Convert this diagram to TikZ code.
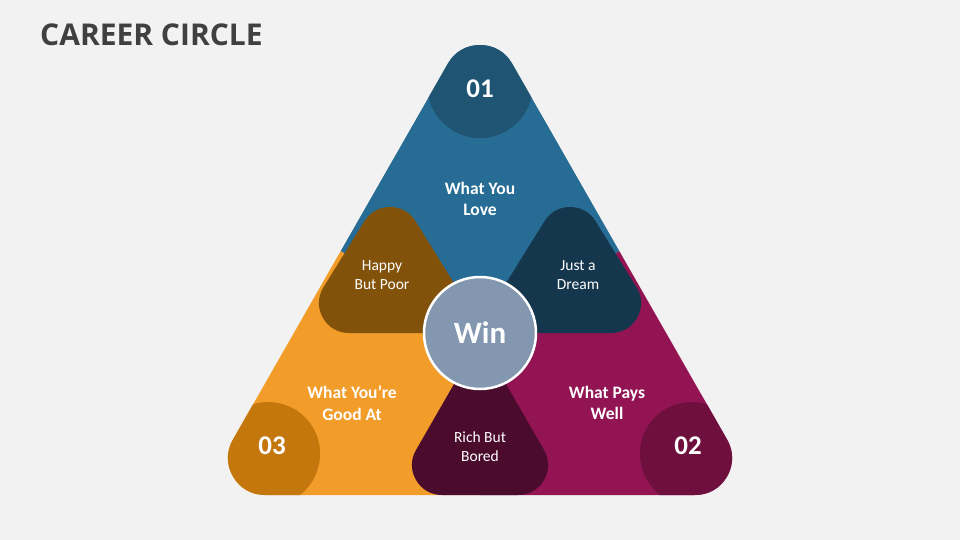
\documentclass[tikz,border=0pt]{standalone}
\usepackage{fontspec}
\setmainfont{Carlito}
\newfontfamily\headfont{Open Sans}
\usepackage{xcolor}
\usepackage{tikz}

\definecolor{slidebg}{RGB}{242,242,242}
\definecolor{titlegray}{RGB}{64,64,64}
\definecolor{lovecol}{RGB}{39,108,148}
\definecolor{lovedark}{RGB}{31,85,114}
\definecolor{goodcol}{RGB}{242,156,42}
\definecolor{gooddark}{RGB}{196,119,13}
\definecolor{payscol}{RGB}{146,20,83}
\definecolor{paysdark}{RGB}{111,15,62}
\definecolor{poorcol}{RGB}{130,82,10}
\definecolor{dreamcol}{RGB}{21,55,77}
\definecolor{boredcol}{RGB}{74,11,45}
\definecolor{wincol}{RGB}{132,151,176}

\tikzset{
  bigtri/.style={line width=74pt, line join=round},
  smalltri/.style={line width=60pt, line join=round},
  bigtext/.style={text=white, align=center, font=\bfseries\fontsize{17.5}{21.5}\selectfont},
  smalltext/.style={text=white, align=center, font=\fontsize{15.5}{19}\selectfont},
  numtext/.style={text=white, font=\bfseries\fontsize{27}{32}\selectfont}
}

\begin{document}
\begin{tikzpicture}[x=1pt, y=-1pt]
    % Slide background
    \fill[slidebg] (0,0) rectangle (960,540);
    \useasboundingbox (0,0) rectangle (960,540);

    % Title
    \node[anchor=base west, inner sep=0, text=titlegray, font=\headfont\bfseries\fontsize{30}{36}\selectfont] (title) at (40,46) {CAREER CIRCLE};

    % Corner centres of the big rounded triangle
    \coordinate (B1) at (480,82);
    \coordinate (B2) at (265,458);
    \coordinate (B3) at (695,458);
    \coordinate (C) at (480,333);

    % Three parts of the big triangle
    \begin{scope}
        \clip (C) -- (158,144) -- (480,-200) -- (802,144) -- cycle;
        \filldraw[lovecol, bigtri] (B1) -- (B2) -- (B3) -- cycle;
    \end{scope}
    \begin{scope}
        \clip (C) -- (158,144) -- (100,600) -- (480,600) -- cycle;
        \filldraw[goodcol, bigtri] (B1) -- (B2) -- (B3) -- cycle;
    \end{scope}
    \begin{scope}
        \clip (C) -- (802,144) -- (860,600) -- (480,600) -- cycle;
        \filldraw[payscol, bigtri] (B1) -- (B2) -- (B3) -- cycle;
    \end{scope}

    % Numbered corners
    \begin{scope}
        \clip (480,85) circle (53pt);
        \filldraw[lovedark, bigtri] (B1) -- (B2) -- (B3) -- cycle;
    \end{scope}
    \begin{scope}
        \clip (268,454) circle (52pt);
        \filldraw[gooddark, bigtri] (B1) -- (B2) -- (B3) -- cycle;
    \end{scope}
    \begin{scope}
        \clip (692,454) circle (52pt);
        \filldraw[paysdark, bigtri] (B1) -- (B2) -- (B3) -- cycle;
    \end{scope}
    \node[numtext] (n01) at (480,89) {01};
    \node[numtext] (n03) at (272,446) {03};
    \node[numtext] (n02) at (688,446) {02};

    % Part labels
    \node[bigtext] (love) at (480,199) {What You\\Love};
    \node[bigtext] (good) at (352,403) {What You’re\\Good At};
    \node[bigtext] (pays) at (607,403) {What Pays\\Well};

    % Overlap triangles
    \filldraw[poorcol, smalltri] (390,237) -- (349,303) -- (431,303) -- cycle;
    \filldraw[dreamcol, smalltri] (570,237) -- (529,303) -- (611,303) -- cycle;
    \filldraw[boredcol, smalltri] (480,399) -- (442,465) -- (518,465) -- cycle;
    \node[smalltext] (poor) at (382,275) {Happy\\But Poor};
    \node[smalltext] (dream) at (578,275) {Just a\\Dream};
    \node[smalltext] (bored) at (480,447) {Rich But\\Bored};

    % Centre
    \node[circle, fill=wincol, draw=white, line width=2.5pt, minimum size=112pt, inner sep=0, text=white, font=\bfseries\fontsize{31}{36}\selectfont] (win) at (C) {Win};
\end{tikzpicture}
\end{document}
